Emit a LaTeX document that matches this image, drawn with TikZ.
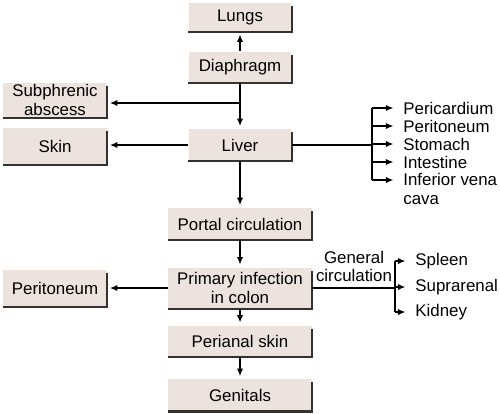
\documentclass[tikz,border=0pt]{standalone}
\usepackage{fontspec}
\setmainfont{Liberation Sans}
\usetikzlibrary{arrows.meta, positioning}
\definecolor{boxfill}{RGB}{236,227,222}
\definecolor{edgegray}{RGB}{50,50,50}

\begin{document}
\begin{tikzpicture}[x=0.02cm, y=-0.02cm,
  every node/.style={font=\fontsize{9.6}{10.3}\selectfont},
  blk/.style={fill=boxfill, align=center, inner sep=0pt, minimum height=0.62cm},
  narrow/.style={blk, minimum width=2.06cm},
  wide/.style={blk, minimum width=2.88cm},
  side/.style={blk, minimum width=2.08cm},
  item/.style={anchor=west, inner xsep=4pt, inner ysep=0pt},
  arr/.style={-{Latex[length=4.2pt,width=3.6pt]}, line width=0.75pt, shorten >=1.5pt},
  ln/.style={line width=0.75pt},
  shadowline/.style={edgegray, line width=1.3pt}]
\useasboundingbox (0,0) rectangle (500,413);

% boxes
\node[narrow, minimum height=0.58cm] (lungs) at (240,17) {Lungs};
\node[narrow] (diaph) at (240,67) {Diaphragm};
\node[narrow, minimum height=0.64cm] (liver) at (240,145) {Liver};
\node[side, minimum height=0.7cm] (subph) at (55,100) {Subphrenic\\abscess};
\node[side, minimum height=0.74cm] (skin) at (55,146) {Skin};
\node[wide, minimum height=0.64cm] (portal) at (240,224) {Portal circulation};
\node[wide, minimum height=0.82cm] (primary) at (240,288) {Primary infection\\in colon};
\node[side, minimum height=0.74cm] (perit) at (55,288) {Peritoneum};
\node[wide] (perianal) at (240,341) {Perianal skin};
\node[wide, minimum height=0.64cm] (genitals) at (240,395) {Genitals};

\foreach \b in {lungs,diaph,liver,subph,skin,portal,primary,perit,perianal,genitals}
  \draw[shadowline] ([yshift=-2pt]\b.north east) -- (\b.south east) -- (\b.south west);

% main column
\draw[arr] (diaph) -- (lungs);
\draw[arr] (diaph) -- (liver);
\coordinate (sb) at (240,103);
\draw[arr] (sb) -- (sb -| subph.east);
\draw[arr] (liver.west) -- (liver.west -| skin.east);
\draw[arr] (liver) -- (portal);
\draw[arr] (portal) -- (primary);
\draw[arr] (primary) -- (perianal);
\draw[arr] (perianal) -- (genitals);
\draw[arr] (primary.west) -- (primary.west -| perit.east);

% spread from liver
\coordinate (lbr) at (372,145);
\node[item] (peric) at (396,108) {Pericardium};
\node[item] (peritb) at (396,126) {Peritoneum};
\node[item] (stom) at (396,144) {Stomach};
\node[item] (intest) at (396,162) {Intestine};
\node[item, align=left] (ivc) at (396,189) {Inferior vena\\cava};
\draw[ln] (liver.east) -- (liver.east -| lbr);
\draw[ln] (peric.west -| lbr) -- ([yshift=0.18cm]ivc.west -| lbr);
\foreach \t in {peric,peritb,stom,intest}
  \draw[arr] (\t.west -| lbr) -- (\t.west);
\draw[arr] ([yshift=0.18cm]ivc.west -| lbr) -- ([yshift=0.18cm]ivc.west);

% general circulation
\coordinate (gbr) at (395,288);
\node[align=center, anchor=south, inner sep=1pt] (gen) at (354,284) {General\\circulation};
\node[item] (spleen) at (408,261) {Spleen};
\node[item] (supra) at (408,287) {Suprarenal};
\node[item] (kidney) at (408,312) {Kidney};
\draw[ln] (primary.east) -- (primary.east -| gbr);
\draw[ln] (spleen.west -| gbr) -- (kidney.west -| gbr);
\foreach \t in {spleen,supra,kidney}
  \draw[arr] (\t.west -| gbr) -- (\t.west);
\end{tikzpicture}
\end{document}
